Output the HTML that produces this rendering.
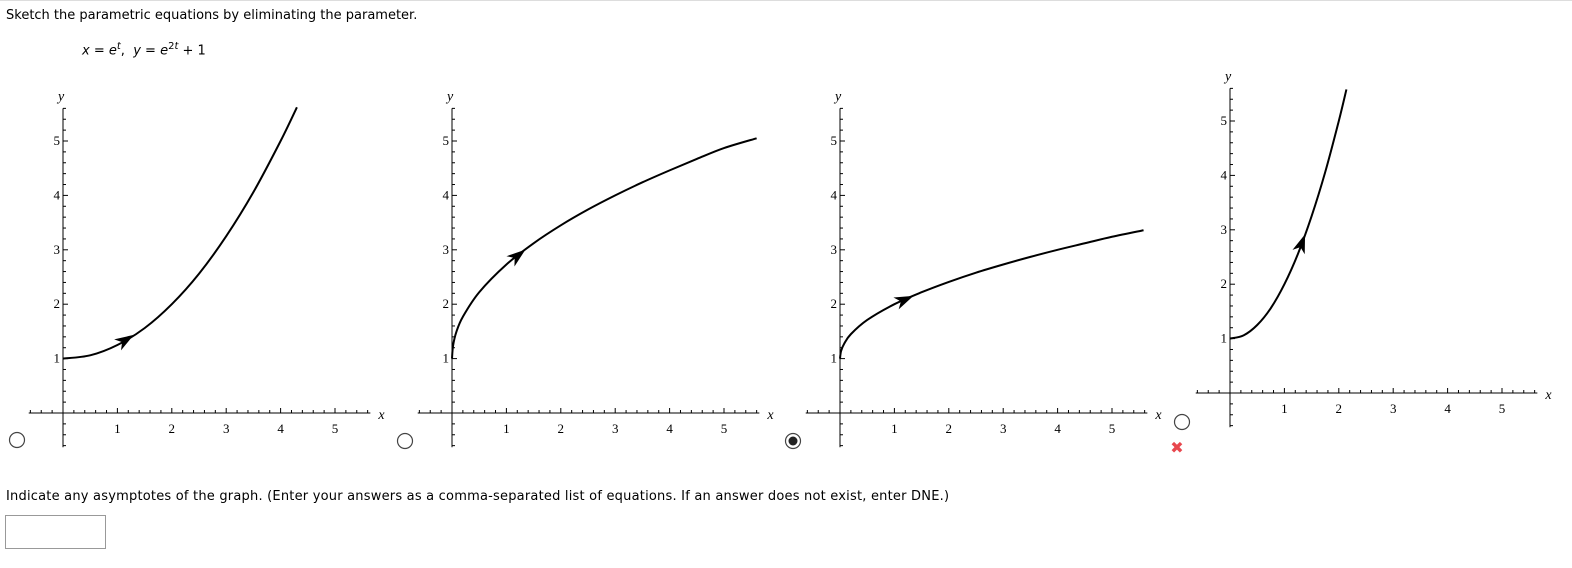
<!DOCTYPE html>
<html><head><meta charset="utf-8">
<style>
body{margin:0;background:#fff;width:1572px;height:568px;overflow:hidden;position:relative;font-family:Verdana,"DejaVu Sans","Liberation Sans",sans-serif;}
.t{position:absolute;font-size:13px;color:#000;white-space:nowrap;}
</style></head><body>
<div style="position:absolute;left:0;top:0;width:1572px;height:1px;background:#ddd"></div>
<div class="t" style="left:6px;top:8px">Sketch the parametric equations by eliminating the parameter.</div>
<div class="t" style="left:82px;top:41px;font-size:13px"><i>x</i> = <i>e</i><sup style="font-size:10px"><i>t</i></sup>,&nbsp; <i>y</i> = <i>e</i><sup style="font-size:10px">2<i>t</i></sup> + 1</div>
<svg id="plots" width="1572" height="480" style="position:absolute;left:0;top:0"></svg>
<div class="t" style="left:6px;top:489px;letter-spacing:0.21px">Indicate any asymptotes of the graph. (Enter your answers as a comma-separated list of equations. If an answer does not exist, enter DNE.)</div>
<div style="position:absolute;left:5px;top:515px;width:101px;height:34px;border:1px solid #999;box-sizing:border-box"></div>
<script>
const curve1X=[0,0.5,1,1.5,2,2.5,3,3.5,4,4.3];
const curve1Y=[1,1.06,1.25,1.56,2,2.56,3.25,4.06,5,5.62];
const curve2X=[0,0.02,0.08,0.2,0.5,1,1.5,2,2.5,3,3.5,4,4.5,5,5.6];
const curve2Y=[1,1.24,1.49,1.77,2.22,2.73,3.12,3.45,3.74,4,4.24,4.46,4.67,4.87,5.05];
const curve3X=[0,0.02,0.08,0.2,0.5,1,1.5,2,2.5,3,3.5,4,4.5,5,5.58];
const curve3Y=[1,1.14,1.28,1.45,1.71,2,2.22,2.41,2.58,2.73,2.87,3,3.12,3.24,3.36];
const curve4X=[0,0.25,0.5,0.75,1,1.25,1.5,1.75,2,2.14];
const curve4Y=[1,1.06,1.25,1.56,2,2.56,3.25,4.06,5,5.58];
const arrowAtX=[1.3,1.35,1.35,1.38];
const tickLabels=[1,2,3,4,5];
const selected=[false,false,true,false];
const panels=[{ox:63,oy:413,xs:curve1X,ys:curve1Y,rx:17,ry:440},{ox:452,oy:413,xs:curve2X,ys:curve2Y,rx:405,ry:441},{ox:840,oy:413,xs:curve3X,ys:curve3Y,rx:793,ry:441},{ox:1230,oy:393,xs:curve4X,ys:curve4Y,rx:1182,ry:422}];
const U=54.4,NS='http://www.w3.org/2000/svg',svg=document.getElementById('plots');
function mk(tag,at,parent){const e=document.createElementNS(NS,tag);for(const k in at)e.setAttribute(k,at[k]);(parent||svg).appendChild(e);return e;}
function interp(xs,ys,x){for(let i=1;i<xs.length;i++){if(x<=xs[i]){const f=(x-xs[i-1])/(xs[i]-xs[i-1]);return ys[i-1]+f*(ys[i]-ys[i-1]);}}return ys[ys.length-1];}
panels.forEach((p,pi)=>{
 const g=mk('g',{});
 
 
 const sx=v=>p.ox+v*U, sy=v=>p.oy-v*U;
 const xa=mk('line',{x1:sx(-0.63),x2:sx(5.65),y1:p.oy,y2:p.oy,stroke:'#000','stroke-width':1},g);
 
 const ya=mk('line',{x1:p.ox,x2:p.ox,y1:sy(5.6),y2:sy(-0.63),stroke:'#000','stroke-width':1},g);
 
 for(let k=-3;k<=28;k++){const v=k/5;if(k===0)continue;const major=k%5===0;const l=major?5:3;
  mk('line',{x1:sx(v),x2:sx(v),y1:p.oy-l,y2:p.oy,stroke:'#000','stroke-width':1},g);
  mk('line',{x1:p.ox,x2:p.ox+l,y1:sy(v),y2:sy(v),stroke:'#000','stroke-width':1},g);}
 tickLabels.forEach(v=>{
  const a=mk('text',{x:sx(v),y:p.oy+20,'text-anchor':'middle','font-family':'Liberation Serif,serif','font-size':13},g);a.textContent=v;
  
  const b=mk('text',{x:p.ox-3,y:sy(v)+4,'text-anchor':'end','font-family':'Liberation Serif,serif','font-size':13},g);b.textContent=v;
  });
 const xl=mk('text',{x:sx(5.65)+8,y:p.oy+6,'font-family':'Liberation Serif,serif','font-style':'italic','font-size':14},g);xl.textContent='x';
 
 const yl=mk('text',{x:p.ox-5,y:sy(5.6)-8,'font-family':'Liberation Serif,serif','font-style':'italic','font-size':14},g);yl.textContent='y';
 
 const P=p.xs.map((x,i)=>[sx(x),sy(p.ys[i])]);
 let d='M'+P[0][0]+' '+P[0][1];
 for(let i=0;i<P.length-1;i++){const a=P[i-1]||P[i],b=P[i],c=P[i+1],e=P[i+2]||c;
  d+=' C'+(b[0]+(c[0]-a[0])/6)+' '+(b[1]+(c[1]-a[1])/6)+' '+(c[0]-(e[0]-b[0])/6)+' '+(c[1]-(e[1]-b[1])/6)+' '+c[0]+' '+c[1];}
 const cv=mk('path',{d:d,fill:'none',stroke:'#000','stroke-width':2},g);
 
 const ax=arrowAtX[pi],ay=interp(p.xs,p.ys,ax),ay2=interp(p.xs,p.ys,ax+0.02);
 const tx=sx(ax),ty=sy(ay),ang=Math.atan2(sy(ay2)-ty,0.02*U);
 const c=Math.cos(ang),s=Math.sin(ang),L=19,W=6.5;
 const pts=[[tx,ty],[tx-L*c+W*s,ty-L*s-W*c],[tx-L*0.72*c,ty-L*0.72*s],[tx-L*c-W*s,ty-L*s+W*c]].map(q=>q.join(',')).join(' ');
 const ar=mk('polygon',{points:pts,fill:'#000'},g);
 
 const r=mk('circle',{cx:p.rx,cy:p.ry,r:7.5,fill:'#fff',stroke:'#444','stroke-width':1.2},g);
 
 if(selected[pi]){const dot=mk('circle',{cx:p.rx,cy:p.ry,r:4.5,fill:'#222'},g);}
});
const x=mk('text',{x:1177,y:453,'text-anchor':'middle','font-size':16,'font-weight':'bold',fill:'#e8474e','font-family':'DejaVu Sans,sans-serif'});x.textContent='✖';

</script>
</body></html>
